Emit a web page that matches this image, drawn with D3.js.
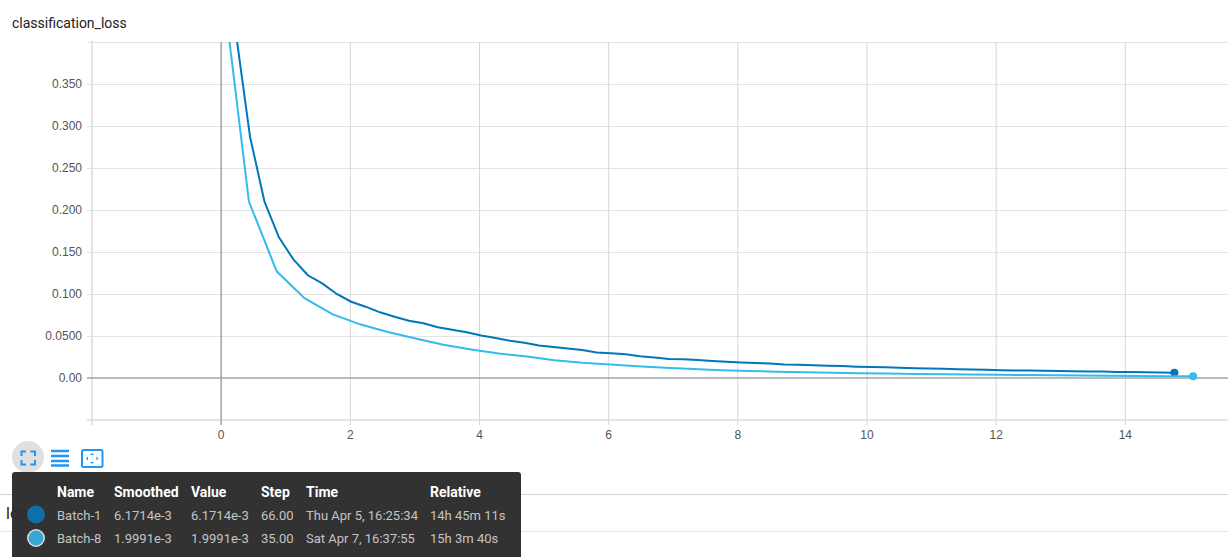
<!DOCTYPE html>
<html>
<head>
<meta charset="utf-8">
<script src="https://cdn.jsdelivr.net/npm/d3@7"></script>
<style>
  html, body { margin: 0; padding: 0; background: #fff; overflow: hidden; }
  svg { display: block; font-family: Roboto, sans-serif; }
</style>
</head>
<body>
<div id="chart"></div>
<script>
var xTicks = [0, 2, 4, 6, 8, 10, 12, 14];
var yTicks = [0.05, 0.10, 0.15, 0.20, 0.25, 0.30, 0.35];
var yTickLabels = ["0.0500", "0.100", "0.150", "0.200", "0.250", "0.300", "0.350"];

var batch1Hours = [0, 0.224, 0.447, 0.671, 0.894, 1.118, 1.342, 1.565, 1.789, 2.013, 2.236, 2.46, 2.684, 2.907, 3.131, 3.355, 3.578, 3.802, 4.025, 4.249, 4.473, 4.696, 4.92, 5.144, 5.367, 5.591, 5.815, 6.038, 6.262, 6.485, 6.709, 6.933, 7.156, 7.38, 7.604, 7.827, 8.051, 8.275, 8.498, 8.722, 8.945, 9.169, 9.393, 9.616, 9.84, 10.064, 10.287, 10.511, 10.735, 10.958, 11.182, 11.405, 11.629, 11.853, 12.076, 12.3, 12.524, 12.747, 12.971, 13.195, 13.418, 13.642, 13.865, 14.089, 14.313, 14.536, 14.76];
var batch1Loss = [0.70, 0.413, 0.287, 0.2099, 0.1675, 0.1413, 0.1223, 0.1127, 0.1, 0.0908, 0.0849, 0.0782, 0.073, 0.0682, 0.0651, 0.0604, 0.0575, 0.0545, 0.0505, 0.0475, 0.0444, 0.042, 0.0388, 0.0368, 0.035, 0.0333, 0.0305, 0.0295, 0.0282, 0.0258, 0.0243, 0.0226, 0.0222, 0.0214, 0.0203, 0.0193, 0.0184, 0.0178, 0.0172, 0.0162, 0.0157, 0.0151, 0.0147, 0.0142, 0.0135, 0.0131, 0.0127, 0.0122, 0.0117, 0.0113, 0.0109, 0.0105, 0.0101, 0.0097, 0.0092, 0.009, 0.0088, 0.0086, 0.0083, 0.008, 0.0077, 0.0076, 0.0072, 0.007, 0.0067, 0.0065, 0.0062];

var batch8Hours = [0, 0.43, 0.86, 1.29, 1.72, 2.15, 2.58, 3.01, 3.44, 3.87, 4.3, 4.73, 5.16, 5.59, 6.02, 6.45, 6.88, 7.31, 7.74, 8.17, 8.6, 9.03, 9.46, 9.89, 10.32, 10.75, 11.18, 11.61, 12.04, 12.47, 12.9, 13.33, 13.76, 14.19, 14.62, 15.05];
var batch8Loss = [0.482, 0.21, 0.127, 0.095, 0.076, 0.0639, 0.0548, 0.047, 0.0395, 0.0338, 0.0292, 0.0255, 0.0212, 0.0182, 0.016, 0.014, 0.0122, 0.0107, 0.0092, 0.0084, 0.0075, 0.0069, 0.0062, 0.0056, 0.0053, 0.0049, 0.0046, 0.0042, 0.0039, 0.0036, 0.0033, 0.003, 0.0027, 0.0024, 0.0022, 0.002];

var tooltipHeaders = ["Name", "Smoothed", "Value", "Step", "Time", "Relative"];
var tooltipBatch1 = ["Batch-1", "6.1714e-3", "6.1714e-3", "66.00", "Thu Apr 5, 16:25:34", "14h 45m 11s"];
var tooltipBatch8 = ["Batch-8", "1.9991e-3", "1.9991e-3", "35.00", "Sat Apr 7, 16:37:55", "15h 3m 40s"];
var tooltipColX = [57, 114, 191, 261, 306, 430];

var width = 1228, height = 557;
var plot = {left: 92, right: 1228, top: 42, bottom: 420};
var tickFont = "'Liberation Sans', Arial, sans-serif";

var svg = d3.select("#chart").append("svg")
  .attr("width", width)
  .attr("height", height);

svg.append("text")
  .attr("x", 12).attr("y", 28)
  .style("font-size", "14px")
  .style("fill", "#212121")
  .text("classification_loss");

var x = d3.scaleLinear().domain([-2, 15.59]).range([plot.left, plot.right]);
var y = d3.scaleLinear().domain([-0.05, 0.4]).range([plot.bottom, plot.top]);

// grid
svg.append("g").selectAll("line").data(yTicks.concat([0.4])).enter().append("line")
  .attr("x1", plot.left - 5).attr("x2", plot.right)
  .attr("y1", function(d) { return y(d) + 0.5; })
  .attr("y2", function(d) { return y(d) + 0.5; })
  .attr("stroke", "#e3e3e3");
svg.append("g").selectAll("line").data(xTicks.slice(1)).enter().append("line")
  .attr("x1", function(d) { return x(d); })
  .attr("x2", function(d) { return x(d); })
  .attr("y1", plot.top).attr("y2", plot.bottom + 5)
  .attr("stroke", "#d6d6d6");

// frame
svg.append("line")
  .attr("x1", plot.left).attr("x2", plot.left)
  .attr("y1", plot.top - 1).attr("y2", plot.bottom + 5)
  .attr("stroke", "#dddddd").attr("stroke-width", 1.5);
svg.append("line")
  .attr("x1", plot.left - 5).attr("x2", plot.right)
  .attr("y1", plot.bottom).attr("y2", plot.bottom)
  .attr("stroke", "#dddddd").attr("stroke-width", 1.5);

// zero lines
svg.append("line")
  .attr("x1", x(0)).attr("x2", x(0))
  .attr("y1", plot.top).attr("y2", plot.bottom + 5)
  .attr("stroke", "#a3a3a3").attr("stroke-width", 1.5);
svg.append("line")
  .attr("x1", plot.left - 5).attr("x2", plot.right)
  .attr("y1", y(0)).attr("y2", y(0))
  .attr("stroke", "#a3a3a3").attr("stroke-width", 1.5);

// tick labels
svg.append("g").selectAll("text").data(xTicks).enter().append("text")
  .attr("x", function(d) { return x(d); })
  .attr("y", plot.bottom + 19)
  .attr("text-anchor", "middle")
  .style("font-family", tickFont)
  .style("font-size", "12px").style("fill", "#555")
  .text(function(d) { return d; });
svg.append("g").selectAll("text").data(yTicks).enter().append("text")
  .attr("x", 82)
  .attr("y", function(d) { return y(d) + 4; })
  .attr("text-anchor", "end")
  .style("font-family", tickFont)
  .style("font-size", "12px").style("fill", "#555")
  .text(function(d, i) { return yTickLabels[i]; });
svg.append("text")
  .attr("x", 82).attr("y", y(0) + 4)
  .attr("text-anchor", "end")
  .style("font-family", tickFont)
  .style("font-size", "12px").style("fill", "#555")
  .text("0.00");

// lines
svg.append("clipPath").attr("id", "plotclip").append("rect")
  .attr("x", plot.left).attr("y", plot.top)
  .attr("width", plot.right - plot.left).attr("height", plot.bottom - plot.top);

var line = d3.line()
  .x(function(d) { return x(d[0]); })
  .y(function(d) { return y(d[1]); });

var series = [
  {xs: batch1Hours, ys: batch1Loss, color: "#0077bb"},
  {xs: batch8Hours, ys: batch8Loss, color: "#33bbee"}
];
var lines = svg.append("g").attr("clip-path", "url(#plotclip)");
series.forEach(function(s) {
  var pts = d3.zip(s.xs, s.ys);
  lines.append("path")
    .attr("d", line(pts))
    .attr("fill", "none")
    .attr("stroke", s.color)
    .attr("stroke-width", 2);
  var last = pts[pts.length - 1];
  lines.append("circle")
    .attr("cx", x(last[0])).attr("cy", y(last[1]))
    .attr("r", 4).attr("fill", s.color);
});

// lower panel behind the tooltip
svg.append("line").attr("x1", 0).attr("x2", width).attr("y1", 494.5).attr("y2", 494.5).attr("stroke", "#d4d4d4");
svg.append("line").attr("x1", 0).attr("x2", width).attr("y1", 531.5).attr("y2", 531.5).attr("stroke", "#e4e4e4");
svg.append("text").attr("x", 6).attr("y", 519).style("font-size", "16px").style("fill", "#222").text("loss");

// buttons
var buttons = svg.append("g");
buttons.append("circle").attr("cx", 28).attr("cy", 457).attr("r", 16).attr("fill", "#e0e0e0");
buttons.append("path")
  .attr("d", "M21.5 456v-4.5h4.5M30.5 451.5h4.5v4.5M35 460v4.5h-4.5M26 464.5h-4.5v-4.5")
  .attr("fill", "none").attr("stroke", "#2196f3").attr("stroke-width", 2);
buttons.append("path")
  .attr("d", "M51 451h18M51 456h18M51 461h18M51 465.5h18")
  .attr("fill", "none").attr("stroke", "#2196f3").attr("stroke-width", 2.4);
buttons.append("rect")
  .attr("x", 82).attr("y", 450).attr("width", 20.5).attr("height", 17).attr("rx", 1.5)
  .attr("fill", "none").attr("stroke", "#2196f3").attr("stroke-width", 2);
buttons.append("path")
  .attr("d", "M92 453l-2 2h4zM92 464l-2 -2h4zM86 458.5l2 -2v4zM98.5 458.5l-2 -2v4z")
  .attr("fill", "#2196f3");

// tooltip
var tip = svg.append("g");
tip.append("rect")
  .attr("x", 12).attr("y", 472).attr("width", 509).attr("height", 95).attr("rx", 3)
  .attr("fill", "#2a2a2a").attr("fill-opacity", 0.96);
tip.selectAll("text.head").data(tooltipHeaders).enter().append("text")
  .attr("class", "head")
  .attr("x", function(d, i) { return tooltipColX[i]; })
  .attr("y", 497)
  .style("font-size", "14px").style("font-weight", 700).style("fill", "#fff")
  .text(function(d) { return d; });
[[tooltipBatch1, 520], [tooltipBatch8, 543]].forEach(function(row) {
  tip.selectAll(null).data(row[0]).enter().append("text")
    .attr("x", function(d, i) { return tooltipColX[i]; })
    .attr("y", row[1])
    .style("font-size", "13px").style("fill", "#c4c4c4")
    .text(function(d) { return d; });
});
tip.append("circle").attr("cx", 36).attr("cy", 514.5).attr("r", 9).attr("fill", "#0f6fa8");
tip.append("circle").attr("cx", 36).attr("cy", 538).attr("r", 8.2)
  .attr("fill", "#36a6d3").attr("stroke", "#ddd").attr("stroke-width", 1.5);
</script>
</body>
</html>
